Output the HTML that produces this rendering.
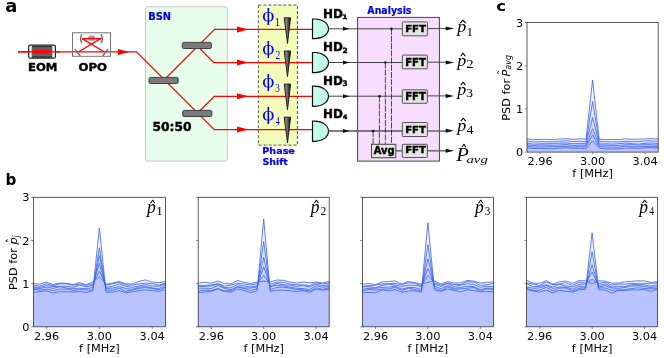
<!DOCTYPE html>
<html><head><meta charset="utf-8"><title>Figure</title>
<style>html,body{margin:0;padding:0;background:#fff;width:664px;height:358px;overflow:hidden}svg{display:block}</style>
</head><body>
<svg width="664" height="358" viewBox="0 0 664 358"><rect x="145.5" y="6.7" width="81.7" height="154.4" rx="2" fill="#e6feea" stroke="#c6cbc6" stroke-width="1"/>
<rect x="258.4" y="5" width="39" height="140.1" fill="#f3fdb9" stroke="#555" stroke-width="1" stroke-dasharray="3,2"/>
<rect x="357.6" y="17.4" width="81.8" height="143.7" fill="#f8defe" stroke="#444" stroke-width="1"/>
<g fill="none" stroke="#ff0000" stroke-width="1.3">
<path d="M18,51.9 H136.6 L214.3,129.6 H312.5"/>
<path d="M163.5,80.5 L214.6,29.4 H312.5"/>
<path d="M196.7,45.5 L213.8,62.6 H312.5"/>
<path d="M197.3,113.3 L214.3,96.3 H312.5"/>
<path d="M82.2,38.6 H100.6 L78.8,51.8 M82.2,38.6 L104,51.8"/>
</g>
<path d="M118,48.90 L129.4,51.9 L118,54.90 Z" fill="#ff0000"/>
<path d="M237,26.40 L248.4,29.4 L237,32.40 Z" fill="#ff0000"/>
<path d="M237,59.60 L248.4,62.6 L237,65.60 Z" fill="#ff0000"/>
<path d="M237,93.30 L248.4,96.3 L237,99.30 Z" fill="#ff0000"/>
<path d="M237,126.60 L248.4,129.6 L237,132.60 Z" fill="#ff0000"/>
<rect x="28.7" y="45.1" width="26.7" height="13.1" rx="1.5" fill="#fff" stroke="#222" stroke-width="1.2"/>
<rect x="31.8" y="45.4" width="20.4" height="12.6" fill="#3a3f3e"/>
<rect x="31.8" y="47.2" width="20.4" height="9" fill="#5d6664"/>
<rect x="32.6" y="49.5" width="18.7" height="4.6" rx="1" fill="#ff0d0d"/>
<line x1="18" y1="51.9" x2="60" y2="51.9" stroke="#ff0000" stroke-width="1.3"/>
<rect x="72.5" y="32.8" width="38" height="23.5" fill="none" stroke="#777" stroke-width="1"/>
<g fill="none" stroke="#6a6a6a" stroke-width="1.4">
<path d="M81.9,34.4 Q79.2,38.8 81.9,43.2"/>
<path d="M101,34.4 Q103.7,38.8 101,43.2"/>
<path d="M74.6,49.1 L80.3,55.8"/>
<path d="M108.1,49.1 L102.7,55.8"/>
</g>
<rect x="88.3" y="35.5" width="6.7" height="5.2" rx="1.5" fill="#a0a0a0"/>
<line x1="82.2" y1="38.6" x2="100.6" y2="38.6" stroke="#ff0000" stroke-width="1.3"/>
<rect x="149" y="77.4" width="29.2" height="6.1" rx="1.5" fill="#7b7b7b" stroke="#333" stroke-width="0.9"/>
<rect x="182.2" y="42.4" width="29.2" height="6.1" rx="1.5" fill="#7b7b7b" stroke="#333" stroke-width="0.9"/>
<rect x="182.7" y="110.4" width="29.2" height="6.1" rx="1.5" fill="#7b7b7b" stroke="#333" stroke-width="0.9"/>
<defs><linearGradient id="wg" x1="0" x2="1" y1="0" y2="0"><stop offset="0" stop-color="#555"/><stop offset="0.3" stop-color="#8a8a8a"/><stop offset="0.6" stop-color="#555"/><stop offset="0.85" stop-color="#1a1a1a"/><stop offset="1" stop-color="#000"/></linearGradient></defs>
<path d="M284.2,17.8 H290.6 L287.5,43.5 Z" fill="url(#wg)" stroke="#151515" stroke-width="0.9"/>
<path d="M284.2,51.0 H290.6 L287.5,76.7 Z" fill="url(#wg)" stroke="#151515" stroke-width="0.9"/>
<path d="M284.2,84.1 H290.6 L287.5,109.8 Z" fill="url(#wg)" stroke="#151515" stroke-width="0.9"/>
<path d="M284.2,117.2 H290.6 L287.5,142.9 Z" fill="url(#wg)" stroke="#151515" stroke-width="0.9"/>
<path d="M312.5,19.0 H315 A13.5,9.85 0 0 1 315,38.7 H312.5 Z" fill="#c4feea" stroke="#111" stroke-width="1.2"/>
<path d="M312.5,52.5 H315 A13.5,10.05 0 0 1 315,72.6 H312.5 Z" fill="#c4feea" stroke="#111" stroke-width="1.2"/>
<path d="M312.5,86.2 H315 A13.5,10.05 0 0 1 315,106.3 H312.5 Z" fill="#c4feea" stroke="#111" stroke-width="1.2"/>
<path d="M312.5,121.2 H315 A13.5,10.05 0 0 1 315,141.3 H312.5 Z" fill="#c4feea" stroke="#111" stroke-width="1.2"/>
<g stroke="#333" stroke-width="0.9" fill="none">
<line x1="328.5" y1="28.8" x2="402" y2="28.8"/>
<line x1="328.5" y1="62.5" x2="402" y2="62.5"/>
<line x1="328.5" y1="96.2" x2="402" y2="96.2"/>
</g>
<line x1="328.5" y1="131" x2="402" y2="131" stroke="#555" stroke-width="1.3"/>
<path d="M343,26.80 L349.5,28.8 L343,30.80 Z" fill="#111"/>
<path d="M343,60.50 L349.5,62.5 L343,64.50 Z" fill="#111"/>
<path d="M343,94.20 L349.5,96.2 L343,98.20 Z" fill="#111"/>
<path d="M343,129.00 L349.5,131.0 L343,133.00 Z" fill="#111"/>
<g stroke="#222" stroke-width="0.8" stroke-dasharray="6,1.2">
<line x1="391.5" y1="28.8" x2="391.5" y2="144.4"/>
<line x1="385.4" y1="62.5" x2="385.4" y2="144.4"/>
<line x1="379.4" y1="96.2" x2="379.4" y2="144.4"/>
<line x1="373.1" y1="131.0" x2="373.1" y2="144.4"/>
</g>
<circle cx="391.5" cy="28.8" r="1.3" fill="#111"/>
<circle cx="385.4" cy="62.5" r="1.3" fill="#111"/>
<circle cx="379.4" cy="96.2" r="1.3" fill="#111"/>
<circle cx="373.1" cy="131.0" r="1.3" fill="#111"/>
<g stroke="#666" stroke-width="1.5">
<line x1="395.8" y1="150.8" x2="402" y2="150.8"/>
<line x1="427.5" y1="150.8" x2="446" y2="150.8"/>
<line x1="427.5" y1="131" x2="446" y2="131"/>
</g>
<g stroke="#333" stroke-width="0.9">
<line x1="427.5" y1="28.6" x2="446" y2="28.6"/>
<line x1="427.5" y1="62.2" x2="446" y2="62.2"/>
<line x1="427.5" y1="95.9" x2="446" y2="95.9"/>
</g>
<path d="M445.7,26.40 L454.0,28.4 L445.7,30.40 Z" fill="#111"/>
<path d="M445.7,60.40 L454.0,62.4 L445.7,64.40 Z" fill="#111"/>
<path d="M445.7,94.00 L454.0,96.0 L445.7,98.00 Z" fill="#111"/>
<path d="M445.7,128.80 L454.0,130.8 L445.7,132.80 Z" fill="#111"/>
<path d="M445.7,148.70 L454.0,150.7 L445.7,152.70 Z" fill="#111"/>
<rect x="402.3" y="21.9" width="25.1" height="13.9" rx="0.8" fill="#e4e4e4" stroke="#555" stroke-width="1"/>
<text transform="translate(405.16,32.30) scale(1.078,1)" font-family="'DejaVu Sans', sans-serif" font-size="9.465" font-weight="bold" stroke="#000" stroke-width="0.4" fill="#000">FFT</text>
<rect x="402.3" y="55.1" width="25.1" height="13.7" rx="0.8" fill="#e4e4e4" stroke="#555" stroke-width="1"/>
<text transform="translate(405.16,65.50) scale(1.005,1)" font-family="'DejaVu Sans', sans-serif" font-size="10.151" font-weight="bold" stroke="#000" stroke-width="0.4" fill="#000">FFT</text>
<rect x="402.3" y="89.8" width="25.1" height="13.5" rx="0.8" fill="#e4e4e4" stroke="#555" stroke-width="1"/>
<text transform="translate(405.16,99.80) scale(1.062,1)" font-family="'DejaVu Sans', sans-serif" font-size="9.602" font-weight="bold" stroke="#000" stroke-width="0.4" fill="#000">FFT</text>
<rect x="402.3" y="122.5" width="25.1" height="14.0" rx="0.8" fill="#e4e4e4" stroke="#555" stroke-width="1"/>
<text transform="translate(405.16,132.60) scale(1.093,1)" font-family="'DejaVu Sans', sans-serif" font-size="9.328" font-weight="bold" stroke="#000" stroke-width="0.4" fill="#000">FFT</text>
<rect x="402.3" y="144.3" width="25.1" height="13.2" rx="0.8" fill="#e4e4e4" stroke="#555" stroke-width="1"/>
<text transform="translate(405.16,153.30) scale(1.199,1)" font-family="'DejaVu Sans', sans-serif" font-size="8.505" font-weight="bold" stroke="#000" stroke-width="0.4" fill="#000">FFT</text>
<rect x="371.5" y="144.3" width="24.3" height="13.4" fill="#e4e4e4" stroke="#444" stroke-width="1"/>
<text transform="translate(373.75,153.50) scale(1.006,1)" font-family="'DejaVu Sans', sans-serif" font-size="9.876" font-weight="bold" stroke="#000" stroke-width="0.4" fill="#000">Avg</text>
<text transform="translate(5.33,12.00) scale(1.023,1)" font-family="'DejaVu Sans', sans-serif" font-size="17.498" font-weight="bold" fill="#000">a</text>
<text transform="translate(5.43,185.40) scale(0.960,1)" font-family="'DejaVu Sans', sans-serif" font-size="15.794" font-weight="bold" fill="#000">b</text>
<text transform="translate(496.29,11.00) scale(1.131,1)" font-family="'DejaVu Sans', sans-serif" font-size="14.641" font-weight="bold" fill="#000">c</text>
<text transform="translate(28.03,70.70) scale(1.041,1)" font-family="'DejaVu Sans', sans-serif" font-size="11.183" font-weight="bold" stroke="#000" stroke-width="0.4" fill="#000">EOM</text>
<text transform="translate(78.42,71.00) scale(1.076,1)" font-family="'DejaVu Sans', sans-serif" font-size="10.914" font-weight="bold" stroke="#000" stroke-width="0.4" fill="#000">OPO</text>
<text transform="translate(148.30,19.80) scale(1.014,1)" font-family="'DejaVu Sans', sans-serif" font-size="9.701" font-weight="bold" stroke="#0000f5" stroke-width="0.2" fill="#0000f5">BSN</text>
<text transform="translate(152.45,130.90) scale(1.040,1)" font-family="'DejaVu Sans', sans-serif" font-size="11.857" font-weight="bold" stroke="#000" stroke-width="0.4" fill="#000">50:50</text>
<text transform="translate(262.32,153.90) scale(1.139,1)" font-family="'DejaVu Sans', sans-serif" font-size="8.424" font-weight="bold" stroke="#0000f5" stroke-width="0.2" fill="#0000f5">Phase</text>
<text transform="translate(262.52,164.90) scale(1.104,1)" font-family="'DejaVu Sans', sans-serif" font-size="8.555" font-weight="bold" stroke="#0000f5" stroke-width="0.2" fill="#0000f5">Shift</text>
<text transform="translate(367.35,13.70) scale(0.942,1)" font-family="'DejaVu Sans', sans-serif" font-size="10.003" font-weight="bold" stroke="#0000f5" stroke-width="0.2" fill="#0000f5">Analysis</text>
<text transform="translate(322.90,17.90) scale(0.979,1)" font-family="'DejaVu Sans', sans-serif" font-size="12.208" font-weight="bold" stroke="#000" stroke-width="0.4" fill="#000">HD</text>
<text transform="translate(342.12,18.80) scale(1.233,1)" font-family="'DejaVu Sans', sans-serif" font-size="6.310" font-weight="bold" stroke="#000" stroke-width="0.4" fill="#000">1</text>
<text transform="translate(322.90,51.00) scale(0.979,1)" font-family="'DejaVu Sans', sans-serif" font-size="12.208" font-weight="bold" stroke="#000" stroke-width="0.4" fill="#000">HD</text>
<text transform="translate(342.40,52.60) scale(1.057,1)" font-family="'DejaVu Sans', sans-serif" font-size="7.141" font-weight="bold" stroke="#000" stroke-width="0.4" fill="#000">2</text>
<text transform="translate(322.90,84.80) scale(0.979,1)" font-family="'DejaVu Sans', sans-serif" font-size="12.208" font-weight="bold" stroke="#000" stroke-width="0.4" fill="#000">HD</text>
<text transform="translate(342.51,85.70) scale(0.948,1)" font-family="'DejaVu Sans', sans-serif" font-size="7.680" font-weight="bold" stroke="#000" stroke-width="0.4" fill="#000">3</text>
<text transform="translate(322.90,117.90) scale(0.979,1)" font-family="'DejaVu Sans', sans-serif" font-size="12.208" font-weight="bold" stroke="#000" stroke-width="0.4" fill="#000">HD</text>
<text transform="translate(342.70,118.80) scale(1.048,1)" font-family="'DejaVu Sans', sans-serif" font-size="6.310" font-weight="bold" stroke="#000" stroke-width="0.4" fill="#000">4</text>
<text transform="translate(262.33,20.92) scale(1.066,1)" font-family="'DejaVu Serif', serif" font-size="16.739" fill="#0000f5">&#x3D5;</text>
<text transform="translate(274.85,25.80) scale(0.848,1)" font-family="'Liberation Serif', serif" font-size="12.724" fill="#0000f5">1</text>
<text transform="translate(262.33,54.02) scale(1.066,1)" font-family="'DejaVu Serif', serif" font-size="16.739" fill="#0000f5">&#x3D5;</text>
<text transform="translate(275.38,58.90) scale(0.747,1)" font-family="'Liberation Serif', serif" font-size="12.687" fill="#0000f5">2</text>
<text transform="translate(262.33,87.12) scale(1.066,1)" font-family="'DejaVu Serif', serif" font-size="16.739" fill="#0000f5">&#x3D5;</text>
<text transform="translate(275.36,92.00) scale(0.725,1)" font-family="'Liberation Serif', serif" font-size="12.687" fill="#0000f5">3</text>
<text transform="translate(262.33,120.22) scale(1.066,1)" font-family="'DejaVu Serif', serif" font-size="16.739" fill="#0000f5">&#x3D5;</text>
<text transform="translate(275.64,125.10) scale(0.641,1)" font-family="'Liberation Serif', serif" font-size="12.762" fill="#0000f5">4</text>
<text transform="translate(457.35,32.27) scale(1.025,1)" font-family="'Liberation Serif', serif" font-size="17.542" font-style="italic" fill="#000">p</text><text transform="translate(459.80,23.80) scale(2.377,1)" font-family="'Liberation Serif', serif" font-size="5.808" stroke="#000" stroke-width="0.3" fill="#000">^</text><text transform="translate(466.45,35.60) scale(1.003,1)" font-family="'Liberation Serif', serif" font-size="13.027" fill="#000">1</text>
<text transform="translate(457.35,65.99) scale(1.060,1)" font-family="'Liberation Serif', serif" font-size="16.957" font-style="italic" fill="#000">p</text><text transform="translate(460.45,57.08) scale(2.104,1)" font-family="'Liberation Serif', serif" font-size="5.163" stroke="#000" stroke-width="0.3" fill="#000">^</text><text transform="translate(466.35,68.40) scale(1.266,1)" font-family="'Liberation Serif', serif" font-size="11.629" fill="#000">2</text>
<text transform="translate(457.35,94.76) scale(1.051,1)" font-family="'Liberation Serif', serif" font-size="17.103" font-style="italic" fill="#000">p</text><text transform="translate(460.44,86.30) scale(1.909,1)" font-family="'Liberation Serif', serif" font-size="5.808" stroke="#000" stroke-width="0.3" fill="#000">^</text><text transform="translate(466.35,97.20) scale(1.122,1)" font-family="'Liberation Serif', serif" font-size="12.083" fill="#000">3</text>
<text transform="translate(457.35,130.76) scale(1.051,1)" font-family="'Liberation Serif', serif" font-size="17.103" font-style="italic" fill="#000">p</text><text transform="translate(460.43,121.88) scale(2.279,1)" font-family="'Liberation Serif', serif" font-size="5.163" stroke="#000" stroke-width="0.3" fill="#000">^</text><text transform="translate(466.43,133.80) scale(1.070,1)" font-family="'Liberation Serif', serif" font-size="13.066" fill="#000">4</text>
<text transform="translate(456.21,160.90) scale(1.108,1)" font-family="'Liberation Serif', serif" font-size="18.632" font-style="italic" fill="#000">P</text>
<text transform="translate(461.87,148.48) scale(1.841,1)" font-family="'Liberation Serif', serif" font-size="5.163" stroke="#000" stroke-width="0.3" fill="#000">^</text>
<text transform="translate(466.46,163.03) scale(1.386,1)" font-family="'Liberation Serif', serif" font-size="10.679" font-style="italic" fill="#000">avg</text>
<polygon points="33.40,326.80 33.40,292.36 40.00,291.56 46.60,290.81 53.20,293.06 59.80,291.51 66.40,291.77 73.00,291.95 79.60,291.50 86.20,292.43 92.80,290.96 99.40,227.95 106.00,292.30 112.60,291.99 119.20,290.60 125.80,292.78 132.40,291.62 139.00,290.66 145.60,289.75 152.20,290.56 158.80,291.41 165.40,289.67 165.40,326.80" fill="#0028ff" fill-opacity="0.052"/><polygon points="33.40,326.80 33.40,289.35 40.00,290.11 46.60,289.17 53.20,290.59 59.80,289.08 66.40,289.06 73.00,290.38 79.60,289.59 86.20,290.01 92.80,290.13 99.40,247.81 106.00,290.21 112.60,290.11 119.20,288.14 125.80,291.34 132.40,289.91 139.00,288.35 145.60,287.57 152.20,288.33 158.80,289.92 165.40,287.26 165.40,326.80" fill="#0028ff" fill-opacity="0.052"/><polygon points="33.40,326.80 33.40,287.96 40.00,288.59 46.60,287.07 53.20,288.41 59.80,286.63 66.40,288.03 73.00,288.76 79.60,288.25 86.20,288.77 92.80,287.49 99.40,255.58 106.00,288.38 112.60,288.15 119.20,286.59 125.80,288.53 132.40,289.30 139.00,287.14 145.60,286.55 152.20,287.91 158.80,288.64 165.40,285.41 165.40,326.80" fill="#0028ff" fill-opacity="0.052"/><polygon points="33.40,326.80 33.40,287.04 40.00,287.43 46.60,285.46 53.20,286.63 59.80,286.39 66.40,286.34 73.00,287.23 79.60,285.10 86.20,286.84 92.80,285.39 99.40,263.35 106.00,287.35 112.60,286.30 119.20,284.00 125.80,286.30 132.40,287.35 139.00,285.91 145.60,284.71 152.20,285.99 158.80,286.17 165.40,283.99 165.40,326.80" fill="#0028ff" fill-opacity="0.052"/><polygon points="33.40,326.80 33.40,285.08 40.00,286.13 46.60,283.68 53.20,285.77 59.80,283.83 66.40,283.75 73.00,285.26 79.60,284.01 86.20,285.46 92.80,283.99 99.40,271.12 106.00,284.79 112.60,283.84 119.20,282.29 125.80,284.85 132.40,285.21 139.00,283.80 145.60,283.20 152.20,283.57 158.80,285.18 165.40,283.17 165.40,326.80" fill="#0028ff" fill-opacity="0.052"/><polygon points="33.40,326.80 33.40,283.45 40.00,284.13 46.60,282.09 53.20,284.59 59.80,283.08 66.40,283.40 73.00,284.55 79.60,282.55 86.20,284.75 92.80,281.92 99.40,276.73 106.00,284.36 112.60,283.03 119.20,281.47 125.80,283.87 132.40,283.95 139.00,281.30 145.60,279.94 152.20,282.13 158.80,282.72 165.40,281.41 165.40,326.80" fill="#0028ff" fill-opacity="0.052"/><polyline points="33.40,292.36 40.00,291.56 46.60,290.81 53.20,293.06 59.80,291.51 66.40,291.77 73.00,291.95 79.60,291.50 86.20,292.43 92.80,290.96 99.40,227.95 106.00,292.30 112.60,291.99 119.20,290.60 125.80,292.78 132.40,291.62 139.00,290.66 145.60,289.75 152.20,290.56 158.80,291.41 165.40,289.67" fill="none" stroke="#3a62ee" stroke-width="0.9" stroke-opacity="0.9"/><polyline points="33.40,289.35 40.00,290.11 46.60,289.17 53.20,290.59 59.80,289.08 66.40,289.06 73.00,290.38 79.60,289.59 86.20,290.01 92.80,290.13 99.40,247.81 106.00,290.21 112.60,290.11 119.20,288.14 125.80,291.34 132.40,289.91 139.00,288.35 145.60,287.57 152.20,288.33 158.80,289.92 165.40,287.26" fill="none" stroke="#3a62ee" stroke-width="0.9" stroke-opacity="0.9"/><polyline points="33.40,287.96 40.00,288.59 46.60,287.07 53.20,288.41 59.80,286.63 66.40,288.03 73.00,288.76 79.60,288.25 86.20,288.77 92.80,287.49 99.40,255.58 106.00,288.38 112.60,288.15 119.20,286.59 125.80,288.53 132.40,289.30 139.00,287.14 145.60,286.55 152.20,287.91 158.80,288.64 165.40,285.41" fill="none" stroke="#3a62ee" stroke-width="0.9" stroke-opacity="0.9"/><polyline points="33.40,287.04 40.00,287.43 46.60,285.46 53.20,286.63 59.80,286.39 66.40,286.34 73.00,287.23 79.60,285.10 86.20,286.84 92.80,285.39 99.40,263.35 106.00,287.35 112.60,286.30 119.20,284.00 125.80,286.30 132.40,287.35 139.00,285.91 145.60,284.71 152.20,285.99 158.80,286.17 165.40,283.99" fill="none" stroke="#3a62ee" stroke-width="0.9" stroke-opacity="0.9"/><polyline points="33.40,285.08 40.00,286.13 46.60,283.68 53.20,285.77 59.80,283.83 66.40,283.75 73.00,285.26 79.60,284.01 86.20,285.46 92.80,283.99 99.40,271.12 106.00,284.79 112.60,283.84 119.20,282.29 125.80,284.85 132.40,285.21 139.00,283.80 145.60,283.20 152.20,283.57 158.80,285.18 165.40,283.17" fill="none" stroke="#3a62ee" stroke-width="0.9" stroke-opacity="0.9"/><polyline points="33.40,283.45 40.00,284.13 46.60,282.09 53.20,284.59 59.80,283.08 66.40,283.40 73.00,284.55 79.60,282.55 86.20,284.75 92.80,281.92 99.40,276.73 106.00,284.36 112.60,283.03 119.20,281.47 125.80,283.87 132.40,283.95 139.00,281.30 145.60,279.94 152.20,282.13 158.80,282.72 165.40,281.41" fill="none" stroke="#3a62ee" stroke-width="0.9" stroke-opacity="0.9"/><rect x="33.4" y="197.3" width="132.00" height="129.50" fill="none" stroke="#333" stroke-width="0.8"/><line x1="31.20" y1="326.80" x2="33.4" y2="326.80" stroke="#555" stroke-width="0.7"/><text x="29.50" y="330.90" font-family="'DejaVu Sans', sans-serif" font-size="11.3" text-anchor="end">0</text><line x1="31.20" y1="283.63" x2="33.4" y2="283.63" stroke="#555" stroke-width="0.7"/><text x="29.50" y="287.73" font-family="'DejaVu Sans', sans-serif" font-size="11.3" text-anchor="end">1</text><line x1="31.20" y1="240.47" x2="33.4" y2="240.47" stroke="#555" stroke-width="0.7"/><text x="29.50" y="244.57" font-family="'DejaVu Sans', sans-serif" font-size="11.3" text-anchor="end">2</text><line x1="31.20" y1="197.30" x2="33.4" y2="197.30" stroke="#555" stroke-width="0.7"/><text x="29.50" y="201.40" font-family="'DejaVu Sans', sans-serif" font-size="11.3" text-anchor="end">3</text><line x1="46.60" y1="326.8" x2="46.60" y2="329.00" stroke="#555" stroke-width="0.7"/><text x="46.60" y="340.10" font-family="'DejaVu Sans', sans-serif" font-size="11.3" text-anchor="middle">2.96</text><line x1="99.40" y1="326.8" x2="99.40" y2="329.00" stroke="#555" stroke-width="0.7"/><text x="99.40" y="340.10" font-family="'DejaVu Sans', sans-serif" font-size="11.3" text-anchor="middle">3.00</text><line x1="152.20" y1="326.8" x2="152.20" y2="329.00" stroke="#555" stroke-width="0.7"/><text x="152.20" y="340.10" font-family="'DejaVu Sans', sans-serif" font-size="11.3" text-anchor="middle">3.04</text><text x="99.40" y="352.00" font-family="'DejaVu Sans', sans-serif" font-size="11.3" text-anchor="middle">f [MHz]</text>
<polygon points="198.20,326.80 198.20,292.64 204.75,291.99 211.30,291.25 217.85,289.00 224.40,291.53 230.95,292.09 237.50,288.86 244.05,290.46 250.60,292.66 257.15,290.79 263.70,218.88 270.25,291.69 276.80,290.13 283.35,290.10 289.90,290.71 296.45,291.46 303.00,290.64 309.55,292.21 316.10,289.28 322.65,290.02 329.20,289.22 329.20,326.80" fill="#0028ff" fill-opacity="0.052"/><polygon points="198.20,326.80 198.20,290.85 204.75,290.27 211.30,290.53 217.85,288.63 224.40,290.92 230.95,290.68 237.50,287.00 244.05,288.56 250.60,290.50 257.15,288.83 263.70,241.33 270.25,289.86 276.80,287.32 283.35,287.28 289.90,288.08 296.45,289.64 303.00,289.74 309.55,290.95 316.10,287.81 322.65,289.42 329.20,287.76 329.20,326.80" fill="#0028ff" fill-opacity="0.052"/><polygon points="198.20,326.80 198.20,288.08 204.75,288.24 211.30,288.50 217.85,285.61 224.40,288.30 230.95,289.74 237.50,286.60 244.05,288.02 250.60,288.04 257.15,286.84 263.70,257.30 270.25,286.86 276.80,285.04 283.35,285.99 289.90,287.10 296.45,288.26 303.00,288.62 309.55,289.51 316.10,285.77 322.65,287.15 329.20,286.51 329.20,326.80" fill="#0028ff" fill-opacity="0.052"/><polygon points="198.20,326.80 198.20,286.42 204.75,286.45 211.30,285.96 217.85,284.09 224.40,287.46 230.95,287.87 237.50,284.59 244.05,286.14 250.60,286.86 257.15,286.06 263.70,266.80 270.25,286.33 276.80,283.43 283.35,284.79 289.90,285.19 296.45,286.47 303.00,285.55 309.55,287.08 316.10,284.13 322.65,285.68 329.20,284.77 329.20,326.80" fill="#0028ff" fill-opacity="0.052"/><polygon points="198.20,326.80 198.20,285.40 204.75,285.44 211.30,284.98 217.85,283.48 224.40,286.09 230.95,285.20 237.50,283.07 244.05,284.01 250.60,284.90 257.15,283.82 263.70,275.43 270.25,283.94 276.80,282.32 283.35,282.32 289.90,284.07 296.45,284.79 303.00,284.96 309.55,285.60 316.10,282.66 322.65,283.94 329.20,282.99 329.20,326.80" fill="#0028ff" fill-opacity="0.052"/><polygon points="198.20,326.80 198.20,283.26 204.75,282.17 211.30,283.25 217.85,281.01 224.40,283.50 230.95,283.96 237.50,280.45 244.05,282.32 250.60,283.50 257.15,282.23 263.70,281.04 270.25,281.90 276.80,280.04 283.35,280.32 289.90,282.08 296.45,283.06 303.00,282.03 309.55,282.90 316.10,282.03 322.65,282.88 329.20,281.47 329.20,326.80" fill="#0028ff" fill-opacity="0.052"/><polyline points="198.20,292.64 204.75,291.99 211.30,291.25 217.85,289.00 224.40,291.53 230.95,292.09 237.50,288.86 244.05,290.46 250.60,292.66 257.15,290.79 263.70,218.88 270.25,291.69 276.80,290.13 283.35,290.10 289.90,290.71 296.45,291.46 303.00,290.64 309.55,292.21 316.10,289.28 322.65,290.02 329.20,289.22" fill="none" stroke="#3a62ee" stroke-width="0.9" stroke-opacity="0.9"/><polyline points="198.20,290.85 204.75,290.27 211.30,290.53 217.85,288.63 224.40,290.92 230.95,290.68 237.50,287.00 244.05,288.56 250.60,290.50 257.15,288.83 263.70,241.33 270.25,289.86 276.80,287.32 283.35,287.28 289.90,288.08 296.45,289.64 303.00,289.74 309.55,290.95 316.10,287.81 322.65,289.42 329.20,287.76" fill="none" stroke="#3a62ee" stroke-width="0.9" stroke-opacity="0.9"/><polyline points="198.20,288.08 204.75,288.24 211.30,288.50 217.85,285.61 224.40,288.30 230.95,289.74 237.50,286.60 244.05,288.02 250.60,288.04 257.15,286.84 263.70,257.30 270.25,286.86 276.80,285.04 283.35,285.99 289.90,287.10 296.45,288.26 303.00,288.62 309.55,289.51 316.10,285.77 322.65,287.15 329.20,286.51" fill="none" stroke="#3a62ee" stroke-width="0.9" stroke-opacity="0.9"/><polyline points="198.20,286.42 204.75,286.45 211.30,285.96 217.85,284.09 224.40,287.46 230.95,287.87 237.50,284.59 244.05,286.14 250.60,286.86 257.15,286.06 263.70,266.80 270.25,286.33 276.80,283.43 283.35,284.79 289.90,285.19 296.45,286.47 303.00,285.55 309.55,287.08 316.10,284.13 322.65,285.68 329.20,284.77" fill="none" stroke="#3a62ee" stroke-width="0.9" stroke-opacity="0.9"/><polyline points="198.20,285.40 204.75,285.44 211.30,284.98 217.85,283.48 224.40,286.09 230.95,285.20 237.50,283.07 244.05,284.01 250.60,284.90 257.15,283.82 263.70,275.43 270.25,283.94 276.80,282.32 283.35,282.32 289.90,284.07 296.45,284.79 303.00,284.96 309.55,285.60 316.10,282.66 322.65,283.94 329.20,282.99" fill="none" stroke="#3a62ee" stroke-width="0.9" stroke-opacity="0.9"/><polyline points="198.20,283.26 204.75,282.17 211.30,283.25 217.85,281.01 224.40,283.50 230.95,283.96 237.50,280.45 244.05,282.32 250.60,283.50 257.15,282.23 263.70,281.04 270.25,281.90 276.80,280.04 283.35,280.32 289.90,282.08 296.45,283.06 303.00,282.03 309.55,282.90 316.10,282.03 322.65,282.88 329.20,281.47" fill="none" stroke="#3a62ee" stroke-width="0.9" stroke-opacity="0.9"/><rect x="198.2" y="197.3" width="131.00" height="129.50" fill="none" stroke="#333" stroke-width="0.8"/><line x1="196.00" y1="326.80" x2="198.2" y2="326.80" stroke="#555" stroke-width="0.7"/><line x1="196.00" y1="283.63" x2="198.2" y2="283.63" stroke="#555" stroke-width="0.7"/><line x1="196.00" y1="240.47" x2="198.2" y2="240.47" stroke="#555" stroke-width="0.7"/><line x1="196.00" y1="197.30" x2="198.2" y2="197.30" stroke="#555" stroke-width="0.7"/><line x1="211.30" y1="326.8" x2="211.30" y2="329.00" stroke="#555" stroke-width="0.7"/><text x="211.30" y="340.10" font-family="'DejaVu Sans', sans-serif" font-size="11.3" text-anchor="middle">2.96</text><line x1="263.70" y1="326.8" x2="263.70" y2="329.00" stroke="#555" stroke-width="0.7"/><text x="263.70" y="340.10" font-family="'DejaVu Sans', sans-serif" font-size="11.3" text-anchor="middle">3.00</text><line x1="316.10" y1="326.8" x2="316.10" y2="329.00" stroke="#555" stroke-width="0.7"/><text x="316.10" y="340.10" font-family="'DejaVu Sans', sans-serif" font-size="11.3" text-anchor="middle">3.04</text><text x="263.70" y="352.00" font-family="'DejaVu Sans', sans-serif" font-size="11.3" text-anchor="middle">f [MHz]</text>
<polygon points="362.40,326.80 362.40,292.73 368.95,292.39 375.50,292.76 382.05,290.00 388.60,290.82 395.15,289.51 401.70,292.27 408.25,291.06 414.80,290.71 421.35,291.99 427.90,222.77 434.45,290.11 441.00,291.10 447.55,288.91 454.10,290.51 460.65,291.70 467.20,289.68 473.75,290.62 480.30,291.66 486.85,291.60 493.40,291.56 493.40,326.80" fill="#0028ff" fill-opacity="0.052"/><polygon points="362.40,326.80 362.40,290.86 368.95,289.43 375.50,290.17 382.05,289.08 388.60,288.87 395.15,287.15 401.70,290.32 408.25,288.15 414.80,289.40 421.35,291.24 427.90,244.78 434.45,287.76 441.00,290.95 447.55,286.93 454.10,289.36 460.65,288.77 467.20,288.27 473.75,287.48 480.30,291.16 486.85,288.86 493.40,289.27 493.40,326.80" fill="#0028ff" fill-opacity="0.052"/><polygon points="362.40,326.80 362.40,289.27 368.95,288.32 375.50,288.26 382.05,287.33 388.60,287.18 395.15,286.10 401.70,289.16 408.25,287.45 414.80,287.55 421.35,289.53 427.90,258.60 434.45,286.23 441.00,288.82 447.55,285.51 454.10,288.23 460.65,287.56 467.20,286.38 473.75,286.63 480.30,289.52 486.85,288.19 493.40,288.30 493.40,326.80" fill="#0028ff" fill-opacity="0.052"/><polygon points="362.40,326.80 362.40,286.87 368.95,286.60 375.50,287.80 382.05,285.25 388.60,284.06 395.15,285.10 401.70,286.43 408.25,285.16 414.80,285.25 421.35,286.45 427.90,268.53 434.45,284.17 441.00,286.44 447.55,283.40 454.10,286.41 460.65,285.26 467.20,283.74 473.75,284.41 480.30,287.13 486.85,286.29 493.40,286.51 493.40,326.80" fill="#0028ff" fill-opacity="0.052"/><polygon points="362.40,326.80 362.40,286.18 368.95,285.70 375.50,285.12 382.05,283.90 388.60,283.67 395.15,283.41 401.70,284.67 408.25,282.68 414.80,283.22 421.35,285.67 427.90,275.43 434.45,282.81 441.00,285.10 447.55,283.09 454.10,284.51 460.65,284.52 467.20,281.58 473.75,282.10 480.30,285.15 486.85,284.74 493.40,283.21 493.40,326.80" fill="#0028ff" fill-opacity="0.052"/><polygon points="362.40,326.80 362.40,284.14 368.95,283.48 375.50,284.67 382.05,281.96 388.60,281.40 395.15,280.96 401.70,284.05 408.25,281.58 414.80,282.64 421.35,283.98 427.90,282.34 434.45,280.90 441.00,284.10 447.55,281.60 454.10,283.03 460.65,282.84 467.20,280.50 473.75,281.14 480.30,283.07 486.85,282.30 493.40,281.91 493.40,326.80" fill="#0028ff" fill-opacity="0.052"/><polyline points="362.40,292.73 368.95,292.39 375.50,292.76 382.05,290.00 388.60,290.82 395.15,289.51 401.70,292.27 408.25,291.06 414.80,290.71 421.35,291.99 427.90,222.77 434.45,290.11 441.00,291.10 447.55,288.91 454.10,290.51 460.65,291.70 467.20,289.68 473.75,290.62 480.30,291.66 486.85,291.60 493.40,291.56" fill="none" stroke="#3a62ee" stroke-width="0.9" stroke-opacity="0.9"/><polyline points="362.40,290.86 368.95,289.43 375.50,290.17 382.05,289.08 388.60,288.87 395.15,287.15 401.70,290.32 408.25,288.15 414.80,289.40 421.35,291.24 427.90,244.78 434.45,287.76 441.00,290.95 447.55,286.93 454.10,289.36 460.65,288.77 467.20,288.27 473.75,287.48 480.30,291.16 486.85,288.86 493.40,289.27" fill="none" stroke="#3a62ee" stroke-width="0.9" stroke-opacity="0.9"/><polyline points="362.40,289.27 368.95,288.32 375.50,288.26 382.05,287.33 388.60,287.18 395.15,286.10 401.70,289.16 408.25,287.45 414.80,287.55 421.35,289.53 427.90,258.60 434.45,286.23 441.00,288.82 447.55,285.51 454.10,288.23 460.65,287.56 467.20,286.38 473.75,286.63 480.30,289.52 486.85,288.19 493.40,288.30" fill="none" stroke="#3a62ee" stroke-width="0.9" stroke-opacity="0.9"/><polyline points="362.40,286.87 368.95,286.60 375.50,287.80 382.05,285.25 388.60,284.06 395.15,285.10 401.70,286.43 408.25,285.16 414.80,285.25 421.35,286.45 427.90,268.53 434.45,284.17 441.00,286.44 447.55,283.40 454.10,286.41 460.65,285.26 467.20,283.74 473.75,284.41 480.30,287.13 486.85,286.29 493.40,286.51" fill="none" stroke="#3a62ee" stroke-width="0.9" stroke-opacity="0.9"/><polyline points="362.40,286.18 368.95,285.70 375.50,285.12 382.05,283.90 388.60,283.67 395.15,283.41 401.70,284.67 408.25,282.68 414.80,283.22 421.35,285.67 427.90,275.43 434.45,282.81 441.00,285.10 447.55,283.09 454.10,284.51 460.65,284.52 467.20,281.58 473.75,282.10 480.30,285.15 486.85,284.74 493.40,283.21" fill="none" stroke="#3a62ee" stroke-width="0.9" stroke-opacity="0.9"/><polyline points="362.40,284.14 368.95,283.48 375.50,284.67 382.05,281.96 388.60,281.40 395.15,280.96 401.70,284.05 408.25,281.58 414.80,282.64 421.35,283.98 427.90,282.34 434.45,280.90 441.00,284.10 447.55,281.60 454.10,283.03 460.65,282.84 467.20,280.50 473.75,281.14 480.30,283.07 486.85,282.30 493.40,281.91" fill="none" stroke="#3a62ee" stroke-width="0.9" stroke-opacity="0.9"/><rect x="362.4" y="197.3" width="131.00" height="129.50" fill="none" stroke="#333" stroke-width="0.8"/><line x1="360.20" y1="326.80" x2="362.4" y2="326.80" stroke="#555" stroke-width="0.7"/><line x1="360.20" y1="283.63" x2="362.4" y2="283.63" stroke="#555" stroke-width="0.7"/><line x1="360.20" y1="240.47" x2="362.4" y2="240.47" stroke="#555" stroke-width="0.7"/><line x1="360.20" y1="197.30" x2="362.4" y2="197.30" stroke="#555" stroke-width="0.7"/><line x1="375.50" y1="326.8" x2="375.50" y2="329.00" stroke="#555" stroke-width="0.7"/><text x="375.50" y="340.10" font-family="'DejaVu Sans', sans-serif" font-size="11.3" text-anchor="middle">2.96</text><line x1="427.90" y1="326.8" x2="427.90" y2="329.00" stroke="#555" stroke-width="0.7"/><text x="427.90" y="340.10" font-family="'DejaVu Sans', sans-serif" font-size="11.3" text-anchor="middle">3.00</text><line x1="480.30" y1="326.8" x2="480.30" y2="329.00" stroke="#555" stroke-width="0.7"/><text x="480.30" y="340.10" font-family="'DejaVu Sans', sans-serif" font-size="11.3" text-anchor="middle">3.04</text><text x="427.90" y="352.00" font-family="'DejaVu Sans', sans-serif" font-size="11.3" text-anchor="middle">f [MHz]</text>
<polygon points="526.60,326.80 526.60,289.35 533.15,291.02 539.70,292.04 546.25,290.11 552.80,292.82 559.35,290.44 565.90,291.16 572.45,291.97 579.00,289.71 585.55,289.40 592.10,232.70 598.65,289.85 605.20,289.91 611.75,293.07 618.30,290.38 624.85,290.53 631.40,289.81 637.95,289.86 644.50,289.57 651.05,291.43 657.60,289.21 657.60,326.80" fill="#0028ff" fill-opacity="0.052"/><polygon points="526.60,326.80 526.60,288.36 533.15,290.36 539.70,290.25 546.25,287.18 552.80,290.96 559.35,288.06 565.90,287.93 572.45,290.83 579.00,288.29 585.55,287.93 592.10,251.69 598.65,287.98 605.20,287.96 611.75,290.24 618.30,289.89 624.85,289.84 631.40,288.51 637.95,287.77 644.50,288.46 651.05,288.84 657.60,288.73 657.60,326.80" fill="#0028ff" fill-opacity="0.052"/><polygon points="526.60,326.80 526.60,286.97 533.15,288.30 539.70,287.82 546.25,285.51 552.80,288.43 559.35,287.11 565.90,287.00 572.45,289.15 579.00,286.42 585.55,286.82 592.10,264.64 598.65,287.23 605.20,285.61 611.75,288.01 618.30,288.27 624.85,287.57 631.40,285.81 637.95,285.66 644.50,286.48 651.05,287.63 657.60,286.66 657.60,326.80" fill="#0028ff" fill-opacity="0.052"/><polygon points="526.60,326.80 526.60,283.71 533.15,286.67 539.70,286.25 546.25,284.74 552.80,286.96 559.35,284.24 565.90,285.93 572.45,286.81 579.00,284.62 585.55,283.77 592.10,271.98 598.65,285.45 605.20,284.03 611.75,287.06 618.30,286.53 624.85,286.63 631.40,284.65 637.95,284.82 644.50,285.01 651.05,286.12 657.60,284.70 657.60,326.80" fill="#0028ff" fill-opacity="0.052"/><polygon points="526.60,326.80 526.60,283.07 533.15,283.86 539.70,285.53 546.25,281.96 552.80,284.69 559.35,283.95 565.90,282.83 572.45,285.27 579.00,282.21 585.55,283.07 592.10,279.32 598.65,283.44 605.20,282.13 611.75,285.16 618.30,284.22 624.85,284.17 631.40,283.30 637.95,283.79 644.50,283.63 651.05,283.20 657.60,283.08 657.60,326.80" fill="#0028ff" fill-opacity="0.052"/><polygon points="526.60,326.80 526.60,280.28 533.15,283.15 539.70,283.34 546.25,280.65 552.80,284.08 559.35,281.78 565.90,281.06 572.45,283.25 579.00,280.64 585.55,280.76 592.10,283.63 598.65,280.77 605.20,281.18 611.75,283.20 618.30,283.03 624.85,281.92 631.40,281.27 637.95,280.85 644.50,280.96 651.05,282.42 657.60,281.76 657.60,326.80" fill="#0028ff" fill-opacity="0.052"/><polyline points="526.60,289.35 533.15,291.02 539.70,292.04 546.25,290.11 552.80,292.82 559.35,290.44 565.90,291.16 572.45,291.97 579.00,289.71 585.55,289.40 592.10,232.70 598.65,289.85 605.20,289.91 611.75,293.07 618.30,290.38 624.85,290.53 631.40,289.81 637.95,289.86 644.50,289.57 651.05,291.43 657.60,289.21" fill="none" stroke="#3a62ee" stroke-width="0.9" stroke-opacity="0.9"/><polyline points="526.60,288.36 533.15,290.36 539.70,290.25 546.25,287.18 552.80,290.96 559.35,288.06 565.90,287.93 572.45,290.83 579.00,288.29 585.55,287.93 592.10,251.69 598.65,287.98 605.20,287.96 611.75,290.24 618.30,289.89 624.85,289.84 631.40,288.51 637.95,287.77 644.50,288.46 651.05,288.84 657.60,288.73" fill="none" stroke="#3a62ee" stroke-width="0.9" stroke-opacity="0.9"/><polyline points="526.60,286.97 533.15,288.30 539.70,287.82 546.25,285.51 552.80,288.43 559.35,287.11 565.90,287.00 572.45,289.15 579.00,286.42 585.55,286.82 592.10,264.64 598.65,287.23 605.20,285.61 611.75,288.01 618.30,288.27 624.85,287.57 631.40,285.81 637.95,285.66 644.50,286.48 651.05,287.63 657.60,286.66" fill="none" stroke="#3a62ee" stroke-width="0.9" stroke-opacity="0.9"/><polyline points="526.60,283.71 533.15,286.67 539.70,286.25 546.25,284.74 552.80,286.96 559.35,284.24 565.90,285.93 572.45,286.81 579.00,284.62 585.55,283.77 592.10,271.98 598.65,285.45 605.20,284.03 611.75,287.06 618.30,286.53 624.85,286.63 631.40,284.65 637.95,284.82 644.50,285.01 651.05,286.12 657.60,284.70" fill="none" stroke="#3a62ee" stroke-width="0.9" stroke-opacity="0.9"/><polyline points="526.60,283.07 533.15,283.86 539.70,285.53 546.25,281.96 552.80,284.69 559.35,283.95 565.90,282.83 572.45,285.27 579.00,282.21 585.55,283.07 592.10,279.32 598.65,283.44 605.20,282.13 611.75,285.16 618.30,284.22 624.85,284.17 631.40,283.30 637.95,283.79 644.50,283.63 651.05,283.20 657.60,283.08" fill="none" stroke="#3a62ee" stroke-width="0.9" stroke-opacity="0.9"/><polyline points="526.60,280.28 533.15,283.15 539.70,283.34 546.25,280.65 552.80,284.08 559.35,281.78 565.90,281.06 572.45,283.25 579.00,280.64 585.55,280.76 592.10,283.63 598.65,280.77 605.20,281.18 611.75,283.20 618.30,283.03 624.85,281.92 631.40,281.27 637.95,280.85 644.50,280.96 651.05,282.42 657.60,281.76" fill="none" stroke="#3a62ee" stroke-width="0.9" stroke-opacity="0.9"/><rect x="526.6" y="197.3" width="131.00" height="129.50" fill="none" stroke="#333" stroke-width="0.8"/><line x1="524.40" y1="326.80" x2="526.6" y2="326.80" stroke="#555" stroke-width="0.7"/><line x1="524.40" y1="283.63" x2="526.6" y2="283.63" stroke="#555" stroke-width="0.7"/><line x1="524.40" y1="240.47" x2="526.6" y2="240.47" stroke="#555" stroke-width="0.7"/><line x1="524.40" y1="197.30" x2="526.6" y2="197.30" stroke="#555" stroke-width="0.7"/><line x1="539.70" y1="326.8" x2="539.70" y2="329.00" stroke="#555" stroke-width="0.7"/><text x="539.70" y="340.10" font-family="'DejaVu Sans', sans-serif" font-size="11.3" text-anchor="middle">2.96</text><line x1="592.10" y1="326.8" x2="592.10" y2="329.00" stroke="#555" stroke-width="0.7"/><text x="592.10" y="340.10" font-family="'DejaVu Sans', sans-serif" font-size="11.3" text-anchor="middle">3.00</text><line x1="644.50" y1="326.8" x2="644.50" y2="329.00" stroke="#555" stroke-width="0.7"/><text x="644.50" y="340.10" font-family="'DejaVu Sans', sans-serif" font-size="11.3" text-anchor="middle">3.04</text><text x="592.10" y="352.00" font-family="'DejaVu Sans', sans-serif" font-size="11.3" text-anchor="middle">f [MHz]</text>
<polygon points="527.00,152.10 527.00,138.88 533.56,139.69 540.12,139.38 546.68,139.38 553.24,139.56 559.80,139.03 566.36,138.77 572.92,139.35 579.48,138.78 586.04,139.22 592.60,79.96 599.16,139.29 605.72,139.47 612.28,139.55 618.84,139.53 625.40,138.95 631.96,139.26 638.52,139.19 645.08,138.91 651.64,138.62 658.20,139.12 658.20,152.10" fill="#0028ff" fill-opacity="0.052"/><polygon points="527.00,152.10 527.00,140.89 533.56,142.05 540.12,141.66 546.68,141.81 553.24,141.78 559.80,141.30 566.36,140.79 572.92,141.58 579.48,141.16 586.04,141.97 592.60,101.56 599.16,141.52 605.72,141.66 612.28,141.88 618.84,141.77 625.40,141.35 631.96,141.58 638.52,141.59 645.08,140.93 651.64,140.82 658.20,141.32 658.20,152.10" fill="#0028ff" fill-opacity="0.052"/><polygon points="527.00,152.10 527.00,143.28 533.56,144.18 540.12,143.80 546.68,143.74 553.24,143.70 559.80,143.11 566.36,142.98 572.92,143.76 579.48,143.29 586.04,143.82 592.60,117.54 599.16,143.94 605.72,143.79 612.28,144.08 618.84,143.67 625.40,143.09 631.96,143.69 638.52,144.07 645.08,143.30 651.64,143.00 658.20,143.54 658.20,152.10" fill="#0028ff" fill-opacity="0.052"/><polygon points="527.00,152.10 527.00,144.77 533.56,145.62 540.12,145.03 546.68,145.13 553.24,145.28 559.80,144.91 566.36,144.47 572.92,145.52 579.48,144.96 586.04,145.24 592.60,128.77 599.16,145.05 605.72,145.16 612.28,145.38 618.84,145.46 625.40,144.73 631.96,144.78 638.52,145.20 645.08,144.69 651.64,144.75 658.20,145.07 658.20,152.10" fill="#0028ff" fill-opacity="0.052"/><polygon points="527.00,152.10 527.00,146.17 533.56,147.13 540.12,146.85 546.68,146.78 553.24,146.69 559.80,146.59 566.36,146.45 572.92,147.03 579.48,146.58 586.04,146.81 592.60,134.82 599.16,146.66 605.72,146.92 612.28,147.05 618.84,147.16 625.40,146.04 631.96,146.80 638.52,146.82 645.08,146.42 651.64,146.33 658.20,146.62 658.20,152.10" fill="#0028ff" fill-opacity="0.052"/><polygon points="527.00,152.10 527.00,147.96 533.56,148.45 540.12,148.33 546.68,148.62 553.24,148.65 559.80,148.09 566.36,147.72 572.92,148.31 579.48,148.32 586.04,148.56 592.60,140.87 599.16,148.16 605.72,148.83 612.28,148.88 618.84,148.83 625.40,147.93 631.96,148.10 638.52,148.39 645.08,147.76 651.64,147.53 658.20,148.13 658.20,152.10" fill="#0028ff" fill-opacity="0.052"/><polyline points="527.00,138.88 533.56,139.69 540.12,139.38 546.68,139.38 553.24,139.56 559.80,139.03 566.36,138.77 572.92,139.35 579.48,138.78 586.04,139.22 592.60,79.96 599.16,139.29 605.72,139.47 612.28,139.55 618.84,139.53 625.40,138.95 631.96,139.26 638.52,139.19 645.08,138.91 651.64,138.62 658.20,139.12" fill="none" stroke="#3a62ee" stroke-width="0.9" stroke-opacity="0.9"/><polyline points="527.00,140.89 533.56,142.05 540.12,141.66 546.68,141.81 553.24,141.78 559.80,141.30 566.36,140.79 572.92,141.58 579.48,141.16 586.04,141.97 592.60,101.56 599.16,141.52 605.72,141.66 612.28,141.88 618.84,141.77 625.40,141.35 631.96,141.58 638.52,141.59 645.08,140.93 651.64,140.82 658.20,141.32" fill="none" stroke="#3a62ee" stroke-width="0.9" stroke-opacity="0.9"/><polyline points="527.00,143.28 533.56,144.18 540.12,143.80 546.68,143.74 553.24,143.70 559.80,143.11 566.36,142.98 572.92,143.76 579.48,143.29 586.04,143.82 592.60,117.54 599.16,143.94 605.72,143.79 612.28,144.08 618.84,143.67 625.40,143.09 631.96,143.69 638.52,144.07 645.08,143.30 651.64,143.00 658.20,143.54" fill="none" stroke="#3a62ee" stroke-width="0.9" stroke-opacity="0.9"/><polyline points="527.00,144.77 533.56,145.62 540.12,145.03 546.68,145.13 553.24,145.28 559.80,144.91 566.36,144.47 572.92,145.52 579.48,144.96 586.04,145.24 592.60,128.77 599.16,145.05 605.72,145.16 612.28,145.38 618.84,145.46 625.40,144.73 631.96,144.78 638.52,145.20 645.08,144.69 651.64,144.75 658.20,145.07" fill="none" stroke="#3a62ee" stroke-width="0.9" stroke-opacity="0.9"/><polyline points="527.00,146.17 533.56,147.13 540.12,146.85 546.68,146.78 553.24,146.69 559.80,146.59 566.36,146.45 572.92,147.03 579.48,146.58 586.04,146.81 592.60,134.82 599.16,146.66 605.72,146.92 612.28,147.05 618.84,147.16 625.40,146.04 631.96,146.80 638.52,146.82 645.08,146.42 651.64,146.33 658.20,146.62" fill="none" stroke="#3a62ee" stroke-width="0.9" stroke-opacity="0.9"/><polyline points="527.00,147.96 533.56,148.45 540.12,148.33 546.68,148.62 553.24,148.65 559.80,148.09 566.36,147.72 572.92,148.31 579.48,148.32 586.04,148.56 592.60,140.87 599.16,148.16 605.72,148.83 612.28,148.88 618.84,148.83 625.40,147.93 631.96,148.10 638.52,148.39 645.08,147.76 651.64,147.53 658.20,148.13" fill="none" stroke="#3a62ee" stroke-width="0.9" stroke-opacity="0.9"/><rect x="527.0" y="22.5" width="131.20" height="129.60" fill="none" stroke="#333" stroke-width="0.8"/><line x1="524.80" y1="152.10" x2="527.0" y2="152.10" stroke="#555" stroke-width="0.7"/><text x="523.10" y="156.20" font-family="'DejaVu Sans', sans-serif" font-size="11.3" text-anchor="end">0</text><line x1="524.80" y1="108.90" x2="527.0" y2="108.90" stroke="#555" stroke-width="0.7"/><text x="523.10" y="113.00" font-family="'DejaVu Sans', sans-serif" font-size="11.3" text-anchor="end">1</text><line x1="524.80" y1="65.70" x2="527.0" y2="65.70" stroke="#555" stroke-width="0.7"/><text x="523.10" y="69.80" font-family="'DejaVu Sans', sans-serif" font-size="11.3" text-anchor="end">2</text><line x1="524.80" y1="22.50" x2="527.0" y2="22.50" stroke="#555" stroke-width="0.7"/><text x="523.10" y="26.60" font-family="'DejaVu Sans', sans-serif" font-size="11.3" text-anchor="end">3</text><line x1="540.12" y1="152.1" x2="540.12" y2="154.30" stroke="#555" stroke-width="0.7"/><text x="540.12" y="165.40" font-family="'DejaVu Sans', sans-serif" font-size="11.3" text-anchor="middle">2.96</text><line x1="592.60" y1="152.1" x2="592.60" y2="154.30" stroke="#555" stroke-width="0.7"/><text x="592.60" y="165.40" font-family="'DejaVu Sans', sans-serif" font-size="11.3" text-anchor="middle">3.00</text><line x1="645.08" y1="152.1" x2="645.08" y2="154.30" stroke="#555" stroke-width="0.7"/><text x="645.08" y="165.40" font-family="'DejaVu Sans', sans-serif" font-size="11.3" text-anchor="middle">3.04</text><text x="592.60" y="177.30" font-family="'DejaVu Sans', sans-serif" font-size="11.3" text-anchor="middle">f [MHz]</text>
<text transform="translate(147.02,212.92) scale(0.931,1)" font-family="'Liberation Serif', serif" font-size="18.711" font-style="italic" fill="#000">p</text><text transform="translate(150.15,204.03) scale(1.613,1)" font-family="'Liberation Serif', serif" font-size="6.454" stroke="#000" stroke-width="0.3" fill="#000">^</text><text transform="translate(156.15,215.40) scale(1.039,1)" font-family="'Liberation Serif', serif" font-size="12.573" fill="#000">1</text>
<text transform="translate(310.82,212.92) scale(0.931,1)" font-family="'Liberation Serif', serif" font-size="18.711" font-style="italic" fill="#000">p</text><text transform="translate(313.95,204.03) scale(1.613,1)" font-family="'Liberation Serif', serif" font-size="6.454" stroke="#000" stroke-width="0.3" fill="#000">^</text><text transform="translate(320.60,215.40) scale(0.915,1)" font-family="'Liberation Serif', serif" font-size="12.536" fill="#000">2</text>
<text transform="translate(475.02,212.92) scale(0.931,1)" font-family="'Liberation Serif', serif" font-size="18.711" font-style="italic" fill="#000">p</text><text transform="translate(478.15,204.03) scale(1.613,1)" font-family="'Liberation Serif', serif" font-size="6.454" stroke="#000" stroke-width="0.3" fill="#000">^</text><text transform="translate(484.77,215.40) scale(0.888,1)" font-family="'Liberation Serif', serif" font-size="12.536" fill="#000">3</text>
<text transform="translate(639.22,212.92) scale(0.931,1)" font-family="'Liberation Serif', serif" font-size="18.711" font-style="italic" fill="#000">p</text><text transform="translate(642.35,204.03) scale(1.613,1)" font-family="'Liberation Serif', serif" font-size="6.454" stroke="#000" stroke-width="0.3" fill="#000">^</text><text transform="translate(649.31,215.40) scale(0.785,1)" font-family="'Liberation Serif', serif" font-size="12.610" fill="#000">4</text>
<text transform="translate(16.6,262.60) rotate(-90)" font-family="'DejaVu Sans', sans-serif" font-size="11.3" text-anchor="middle">PSD for <tspan font-style="italic" dx="0">p</tspan><tspan font-style="italic" font-size="8" dy="2">j</tspan></text>
<text transform="translate(509.6,87.90) rotate(-90)" font-family="'DejaVu Sans', sans-serif" font-size="11.3" text-anchor="middle">PSD for <tspan font-style="italic" dx="-1.2">P</tspan><tspan font-style="italic" font-size="8" dy="1.8">avg</tspan></text>
<text transform="translate(15.72,243.31) rotate(-90) scale(0.769,1)" font-family="'DejaVu Sans', sans-serif" font-size="12.528" fill="#000">&#x2C6;</text>
<text transform="translate(506.11,74.97) rotate(-90) scale(0.943,1)" font-family="'DejaVu Sans', sans-serif" font-size="10.894" fill="#000">&#x2C6;</text></svg>
</body></html>
